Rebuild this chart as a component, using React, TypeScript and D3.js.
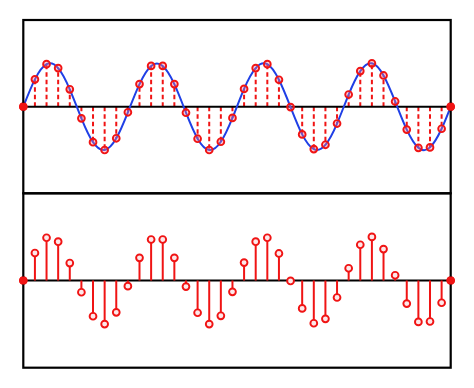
import React from "react";
import * as d3 from "d3";

// Sampled sine: 4 periods over 4 s, sampling interval ~0.10875 s (37 samples + end point)
const SAMPLE_INTERVAL = 0.10875;
const T_END = 4;
const sampleIndex = d3.range(37);
const sampleTimes: number[] = [...sampleIndex.map((k) => k * SAMPLE_INTERVAL), T_END];
const sampleValues: number[] = [
  0, 0.63, 0.98, 0.89, 0.4, -0.27, -0.82, -1.0, -0.73, -0.13,
  0.52, 0.94, 0.94, 0.52, -0.14, -0.74, -1.0, -0.81, -0.26, 0.41,
  0.89, 0.98, 0.62, -0.01, -0.64, -0.98, -0.88, -0.39, 0.28, 0.82,
  1.0, 0.72, 0.12, -0.53, -0.95, -0.94, -0.51, 0,
];
const yDomain: [number, number] = [-2, 2];

const W = 474;
const H = 388;
const LEFT = 23.3;
const RIGHT = 450.7;
const TOP1 = 20;
const MID = 193.3;
const BOT2 = 367.7;

const RED = "#f01414";
const BLUE = "#1f3fe6";

export default function App() {
  const x = d3.scaleLinear().domain([0, T_END]).range([LEFT, RIGHT]);
  const y1 = d3.scaleLinear().domain(yDomain).range([MID, TOP1]);
  const y2 = d3.scaleLinear().domain(yDomain).range([BOT2, MID]);

  const pts = sampleTimes.map((t, i) => ({ t, v: sampleValues[i] }));
  const line = d3
    .line<{ t: number; v: number }>()
    .x((d) => x(d.t))
    .y((d) => y1(d.v))
    .curve(d3.curveNatural);

  return (
    <svg
      width={W}
      height={H}
      style={{ position: "absolute", left: 0, top: 0, background: "#fff" }}
    >
      <rect x={0} y={0} width={W} height={H} fill="#fff" />
      {/* Top panel */}
      <g>
        {pts.map((d, i) => (
          <line
            key={"ds" + i}
            x1={x(d.t)}
            x2={x(d.t)}
            y1={y1(0)}
            y2={y1(d.v)}
            stroke={RED}
            strokeWidth={2}
            strokeDasharray="4.5,3"
          />
        ))}
        <line x1={LEFT} x2={RIGHT} y1={y1(0)} y2={y1(0)} stroke="#000" strokeWidth={2} />
        <path d={line(pts) || ""} fill="none" stroke={BLUE} strokeWidth={2} />
        {pts.map((d, i) => (
          <circle
            key={"c1" + i}
            cx={x(d.t)}
            cy={y1(d.v)}
            r={3.4}
            fill="rgba(255,120,140,0.35)"
            stroke={RED}
            strokeWidth={1.9}
          />
        ))}
      </g>
      {/* Bottom panel */}
      <g>
        <line x1={LEFT} x2={RIGHT} y1={y2(0)} y2={y2(0)} stroke="#000" strokeWidth={2} />
        {pts.map((d, i) => (
          <line
            key={"s" + i}
            x1={x(d.t)}
            x2={x(d.t)}
            y1={y2(0)}
            y2={y2(d.v)}
            stroke={RED}
            strokeWidth={2}
          />
        ))}
        {pts.map((d, i) => (
          <circle
            key={"c2" + i}
            cx={x(d.t)}
            cy={y2(d.v)}
            r={3.4}
            fill="#fde8ea"
            stroke={RED}
            strokeWidth={1.9}
          />
        ))}
      </g>
      {/* Panel frames */}
      <rect x={LEFT} y={TOP1} width={RIGHT - LEFT} height={MID - TOP1} fill="none" stroke="#000" strokeWidth={2.2} />
      <rect x={LEFT} y={MID} width={RIGHT - LEFT} height={BOT2 - MID} fill="none" stroke="#000" strokeWidth={2.2} />
      {/* end points drawn over frame */}
      <circle cx={x(T_END)} cy={y1(0)} r={3.4} fill={RED} stroke={RED} strokeWidth={1.2} />
      <circle cx={x(T_END)} cy={y2(0)} r={3.4} fill={RED} stroke={RED} strokeWidth={1.2} />
      <circle cx={x(0)} cy={y1(0)} r={3.4} fill={RED} stroke={RED} strokeWidth={1.2} />
      <circle cx={x(0)} cy={y2(0)} r={3.4} fill={RED} stroke={RED} strokeWidth={1.2} />
    </svg>
  );
}
